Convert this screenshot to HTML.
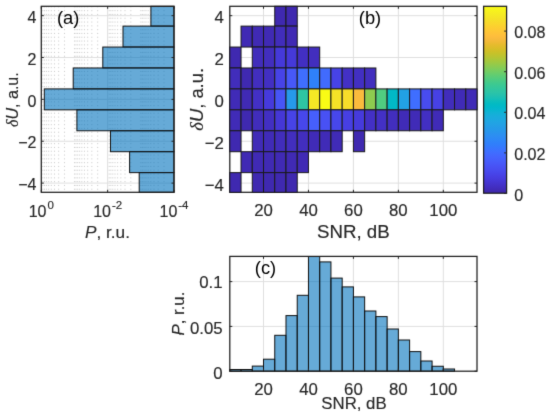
<!DOCTYPE html>
<html><head><meta charset="utf-8"><style>
html,body{margin:0;padding:0;background:#fff;}
svg{display:block;}
text{font-family:'Liberation Sans', Arial, sans-serif;}
</style></head><body>
<svg width="550" height="416" viewBox="0 0 550 416">
<defs><filter id="bl" filterUnits="userSpaceOnUse" x="0" y="0" width="550" height="416" color-interpolation-filters="sRGB"><feConvolveMatrix order="3" kernelMatrix="0.0113 0.0838 0.0113 0.0838 0.6193 0.0838 0.0113 0.0838 0.0113" edgeMode="duplicate"/></filter></defs>
<g filter="url(#bl)">
<rect width="550" height="416" fill="#fff"/>
<line x1="64.49" y1="6.3" x2="64.49" y2="192.3" stroke="#cdcdcd" stroke-width="1" stroke-dasharray="1.1 2.7"/>
<line x1="58.65" y1="6.3" x2="58.65" y2="192.3" stroke="#cdcdcd" stroke-width="1" stroke-dasharray="1.1 2.7"/>
<line x1="54.50" y1="6.3" x2="54.50" y2="192.3" stroke="#cdcdcd" stroke-width="1" stroke-dasharray="1.1 2.7"/>
<line x1="51.29" y1="6.3" x2="51.29" y2="192.3" stroke="#cdcdcd" stroke-width="1" stroke-dasharray="1.1 2.7"/>
<line x1="48.66" y1="6.3" x2="48.66" y2="192.3" stroke="#cdcdcd" stroke-width="1" stroke-dasharray="1.1 2.7"/>
<line x1="46.44" y1="6.3" x2="46.44" y2="192.3" stroke="#cdcdcd" stroke-width="1" stroke-dasharray="1.1 2.7"/>
<line x1="44.51" y1="6.3" x2="44.51" y2="192.3" stroke="#cdcdcd" stroke-width="1" stroke-dasharray="1.1 2.7"/>
<line x1="42.82" y1="6.3" x2="42.82" y2="192.3" stroke="#cdcdcd" stroke-width="1" stroke-dasharray="1.1 2.7"/>
<line x1="97.66" y1="6.3" x2="97.66" y2="192.3" stroke="#cdcdcd" stroke-width="1" stroke-dasharray="1.1 2.7"/>
<line x1="91.82" y1="6.3" x2="91.82" y2="192.3" stroke="#cdcdcd" stroke-width="1" stroke-dasharray="1.1 2.7"/>
<line x1="87.68" y1="6.3" x2="87.68" y2="192.3" stroke="#cdcdcd" stroke-width="1" stroke-dasharray="1.1 2.7"/>
<line x1="84.46" y1="6.3" x2="84.46" y2="192.3" stroke="#cdcdcd" stroke-width="1" stroke-dasharray="1.1 2.7"/>
<line x1="81.83" y1="6.3" x2="81.83" y2="192.3" stroke="#cdcdcd" stroke-width="1" stroke-dasharray="1.1 2.7"/>
<line x1="79.61" y1="6.3" x2="79.61" y2="192.3" stroke="#cdcdcd" stroke-width="1" stroke-dasharray="1.1 2.7"/>
<line x1="77.69" y1="6.3" x2="77.69" y2="192.3" stroke="#cdcdcd" stroke-width="1" stroke-dasharray="1.1 2.7"/>
<line x1="75.99" y1="6.3" x2="75.99" y2="192.3" stroke="#cdcdcd" stroke-width="1" stroke-dasharray="1.1 2.7"/>
<line x1="140.82" y1="6.3" x2="140.82" y2="192.3" stroke="#cdcdcd" stroke-width="1" stroke-dasharray="1.1 2.7"/>
<line x1="130.84" y1="6.3" x2="130.84" y2="192.3" stroke="#cdcdcd" stroke-width="1" stroke-dasharray="1.1 2.7"/>
<line x1="125.00" y1="6.3" x2="125.00" y2="192.3" stroke="#cdcdcd" stroke-width="1" stroke-dasharray="1.1 2.7"/>
<line x1="120.85" y1="6.3" x2="120.85" y2="192.3" stroke="#cdcdcd" stroke-width="1" stroke-dasharray="1.1 2.7"/>
<line x1="117.64" y1="6.3" x2="117.64" y2="192.3" stroke="#cdcdcd" stroke-width="1" stroke-dasharray="1.1 2.7"/>
<line x1="115.01" y1="6.3" x2="115.01" y2="192.3" stroke="#cdcdcd" stroke-width="1" stroke-dasharray="1.1 2.7"/>
<line x1="112.79" y1="6.3" x2="112.79" y2="192.3" stroke="#cdcdcd" stroke-width="1" stroke-dasharray="1.1 2.7"/>
<line x1="110.86" y1="6.3" x2="110.86" y2="192.3" stroke="#cdcdcd" stroke-width="1" stroke-dasharray="1.1 2.7"/>
<line x1="109.17" y1="6.3" x2="109.17" y2="192.3" stroke="#cdcdcd" stroke-width="1" stroke-dasharray="1.1 2.7"/>
<line x1="164.01" y1="6.3" x2="164.01" y2="192.3" stroke="#cdcdcd" stroke-width="1" stroke-dasharray="1.1 2.7"/>
<line x1="158.17" y1="6.3" x2="158.17" y2="192.3" stroke="#cdcdcd" stroke-width="1" stroke-dasharray="1.1 2.7"/>
<line x1="154.03" y1="6.3" x2="154.03" y2="192.3" stroke="#cdcdcd" stroke-width="1" stroke-dasharray="1.1 2.7"/>
<line x1="150.81" y1="6.3" x2="150.81" y2="192.3" stroke="#cdcdcd" stroke-width="1" stroke-dasharray="1.1 2.7"/>
<line x1="148.18" y1="6.3" x2="148.18" y2="192.3" stroke="#cdcdcd" stroke-width="1" stroke-dasharray="1.1 2.7"/>
<line x1="145.96" y1="6.3" x2="145.96" y2="192.3" stroke="#cdcdcd" stroke-width="1" stroke-dasharray="1.1 2.7"/>
<line x1="144.04" y1="6.3" x2="144.04" y2="192.3" stroke="#cdcdcd" stroke-width="1" stroke-dasharray="1.1 2.7"/>
<line x1="142.34" y1="6.3" x2="142.34" y2="192.3" stroke="#cdcdcd" stroke-width="1" stroke-dasharray="1.1 2.7"/>
<line x1="74.47" y1="6.3" x2="74.47" y2="192.3" stroke="#cdcdcd" stroke-width="1" stroke-dasharray="1.1 2.7"/>
<line x1="41.3" y1="183.10" x2="174" y2="183.10" stroke="#dfdfdf" stroke-width="1"/>
<line x1="41.3" y1="141.24" x2="174" y2="141.24" stroke="#dfdfdf" stroke-width="1"/>
<line x1="41.3" y1="99.38" x2="174" y2="99.38" stroke="#dfdfdf" stroke-width="1"/>
<line x1="41.3" y1="57.52" x2="174" y2="57.52" stroke="#dfdfdf" stroke-width="1"/>
<line x1="41.3" y1="15.66" x2="174" y2="15.66" stroke="#dfdfdf" stroke-width="1"/>
<line x1="107.65" y1="6.3" x2="107.65" y2="192.3" stroke="#dfdfdf" stroke-width="1"/>
<rect x="150.9" y="6.30" width="23.10" height="19.82" fill="#0072bd" fill-opacity="0.6" stroke="#111" stroke-width="1"/>
<rect x="123" y="26.12" width="51.00" height="20.93" fill="#0072bd" fill-opacity="0.6" stroke="#111" stroke-width="1"/>
<rect x="102.8" y="47.05" width="71.20" height="20.93" fill="#0072bd" fill-opacity="0.6" stroke="#111" stroke-width="1"/>
<rect x="73.2" y="67.98" width="100.80" height="20.93" fill="#0072bd" fill-opacity="0.6" stroke="#111" stroke-width="1"/>
<rect x="44.3" y="88.91" width="129.70" height="20.93" fill="#0072bd" fill-opacity="0.6" stroke="#111" stroke-width="1"/>
<rect x="76.9" y="109.84" width="97.10" height="20.93" fill="#0072bd" fill-opacity="0.6" stroke="#111" stroke-width="1"/>
<rect x="110.5" y="130.78" width="63.50" height="20.93" fill="#0072bd" fill-opacity="0.6" stroke="#111" stroke-width="1"/>
<rect x="129.6" y="151.70" width="44.40" height="20.93" fill="#0072bd" fill-opacity="0.6" stroke="#111" stroke-width="1"/>
<rect x="139.2" y="172.63" width="34.80" height="19.67" fill="#0072bd" fill-opacity="0.6" stroke="#111" stroke-width="1"/>
<line x1="41.3" y1="183.10" x2="43.8" y2="183.10" stroke="#262626"/>
<line x1="174" y1="183.10" x2="171.5" y2="183.10" stroke="#262626"/>
<line x1="41.3" y1="141.24" x2="43.8" y2="141.24" stroke="#262626"/>
<line x1="174" y1="141.24" x2="171.5" y2="141.24" stroke="#262626"/>
<line x1="41.3" y1="99.38" x2="43.8" y2="99.38" stroke="#262626"/>
<line x1="174" y1="99.38" x2="171.5" y2="99.38" stroke="#262626"/>
<line x1="41.3" y1="57.52" x2="43.8" y2="57.52" stroke="#262626"/>
<line x1="174" y1="57.52" x2="171.5" y2="57.52" stroke="#262626"/>
<line x1="41.3" y1="15.66" x2="43.8" y2="15.66" stroke="#262626"/>
<line x1="174" y1="15.66" x2="171.5" y2="15.66" stroke="#262626"/>
<line x1="41.30" y1="192.3" x2="41.30" y2="189.8" stroke="#262626"/>
<line x1="41.30" y1="6.3" x2="41.30" y2="8.8" stroke="#262626"/>
<line x1="107.65" y1="192.3" x2="107.65" y2="189.8" stroke="#262626"/>
<line x1="107.65" y1="6.3" x2="107.65" y2="8.8" stroke="#262626"/>
<line x1="174.00" y1="192.3" x2="174.00" y2="189.8" stroke="#262626"/>
<line x1="174.00" y1="6.3" x2="174.00" y2="8.8" stroke="#262626"/>
<rect x="41.3" y="6.3" width="132.7" height="186.00" fill="none" stroke="#1e1e1e" stroke-width="1.25"/>
<text transform="translate(36.50,22.86) scale(1,1.0)" text-anchor="end" font-size="16" fill="#262626" stroke="#262626" stroke-width="0.15">4</text>
<text transform="translate(36.50,64.72) scale(1,1.0)" text-anchor="end" font-size="16" fill="#262626" stroke="#262626" stroke-width="0.15">2</text>
<text transform="translate(36.50,106.58) scale(1,1.0)" text-anchor="end" font-size="16" fill="#262626" stroke="#262626" stroke-width="0.15">0</text>
<text transform="translate(36.50,148.44) scale(1,1.0)" text-anchor="end" font-size="16" fill="#262626" stroke="#262626" stroke-width="0.15">−2</text>
<text transform="translate(36.50,190.30) scale(1,1.0)" text-anchor="end" font-size="16" fill="#262626" stroke="#262626" stroke-width="0.15">−4</text>
<text transform="translate(41.30,217.20) scale(1,1.0)" text-anchor="middle" font-size="16" fill="#262626" stroke="#262626" stroke-width="0.15">10<tspan dx="1" dy="-8" font-size="11.5">0</tspan></text>
<text transform="translate(107.65,217.20) scale(1,1.0)" text-anchor="middle" font-size="16" fill="#262626" stroke="#262626" stroke-width="0.15">10<tspan dx="1" dy="-8" font-size="11.5">-2</tspan></text>
<text transform="translate(174.00,217.20) scale(1,1.0)" text-anchor="middle" font-size="16" fill="#262626" stroke="#262626" stroke-width="0.15">10<tspan dx="1" dy="-8" font-size="11.5">-4</tspan></text>
<text transform="translate(107.50,238.20) scale(1,1.0)" text-anchor="middle" font-size="17.2" fill="#262626" stroke="#262626" stroke-width="0.15"><tspan font-style="italic">P</tspan>, r.u.</text>
<text transform="translate(17.80,99.60) rotate(-90) scale(1,1.0)" text-anchor="middle" font-size="16" fill="#262626" stroke="#262626" stroke-width="0.15"><tspan font-style="italic"><tspan font-family="Liberation Serif">δ</tspan>U</tspan>, a.u.</text>
<text transform="translate(57.00,23.80) scale(1,1.0)" font-size="18.3" fill="#000">(a)</text>
<line x1="229.8" y1="183.10" x2="477" y2="183.10" stroke="#dfdfdf" stroke-width="1"/>
<line x1="229.8" y1="141.24" x2="477" y2="141.24" stroke="#dfdfdf" stroke-width="1"/>
<line x1="229.8" y1="99.38" x2="477" y2="99.38" stroke="#dfdfdf" stroke-width="1"/>
<line x1="229.8" y1="57.52" x2="477" y2="57.52" stroke="#dfdfdf" stroke-width="1"/>
<line x1="229.8" y1="15.66" x2="477" y2="15.66" stroke="#dfdfdf" stroke-width="1"/>
<line x1="263.51" y1="6.3" x2="263.51" y2="192.3" stroke="#dfdfdf" stroke-width="1"/>
<line x1="308.46" y1="6.3" x2="308.46" y2="192.3" stroke="#dfdfdf" stroke-width="1"/>
<line x1="353.41" y1="6.3" x2="353.41" y2="192.3" stroke="#dfdfdf" stroke-width="1"/>
<line x1="398.36" y1="6.3" x2="398.36" y2="192.3" stroke="#dfdfdf" stroke-width="1"/>
<line x1="443.31" y1="6.3" x2="443.31" y2="192.3" stroke="#dfdfdf" stroke-width="1"/>
<line x1="229.8" y1="183.10" x2="232.3" y2="183.10" stroke="#262626"/>
<line x1="477" y1="183.10" x2="474.5" y2="183.10" stroke="#262626"/>
<line x1="229.8" y1="141.24" x2="232.3" y2="141.24" stroke="#262626"/>
<line x1="477" y1="141.24" x2="474.5" y2="141.24" stroke="#262626"/>
<line x1="229.8" y1="99.38" x2="232.3" y2="99.38" stroke="#262626"/>
<line x1="477" y1="99.38" x2="474.5" y2="99.38" stroke="#262626"/>
<line x1="229.8" y1="57.52" x2="232.3" y2="57.52" stroke="#262626"/>
<line x1="477" y1="57.52" x2="474.5" y2="57.52" stroke="#262626"/>
<line x1="229.8" y1="15.66" x2="232.3" y2="15.66" stroke="#262626"/>
<line x1="477" y1="15.66" x2="474.5" y2="15.66" stroke="#262626"/>
<line x1="263.51" y1="192.3" x2="263.51" y2="189.8" stroke="#262626"/>
<line x1="263.51" y1="6.3" x2="263.51" y2="8.8" stroke="#262626"/>
<line x1="308.46" y1="192.3" x2="308.46" y2="189.8" stroke="#262626"/>
<line x1="308.46" y1="6.3" x2="308.46" y2="8.8" stroke="#262626"/>
<line x1="353.41" y1="192.3" x2="353.41" y2="189.8" stroke="#262626"/>
<line x1="353.41" y1="6.3" x2="353.41" y2="8.8" stroke="#262626"/>
<line x1="398.36" y1="192.3" x2="398.36" y2="189.8" stroke="#262626"/>
<line x1="398.36" y1="6.3" x2="398.36" y2="8.8" stroke="#262626"/>
<line x1="443.31" y1="192.3" x2="443.31" y2="189.8" stroke="#262626"/>
<line x1="443.31" y1="6.3" x2="443.31" y2="8.8" stroke="#262626"/>
<rect x="229.8" y="6.3" width="247.2" height="186.00" fill="none" stroke="#1e1e1e" stroke-width="1.25"/>
<rect x="274.75" y="6.30" width="11.24" height="19.82" fill="#3f29b0" stroke="#1a1a1a" stroke-width="1"/>
<rect x="285.99" y="6.30" width="11.24" height="19.82" fill="#3f29b0" stroke="#1a1a1a" stroke-width="1"/>
<rect x="241.04" y="26.12" width="11.24" height="20.93" fill="#402ab4" stroke="#1a1a1a" stroke-width="1"/>
<rect x="252.28" y="26.12" width="11.24" height="20.93" fill="#402ab4" stroke="#1a1a1a" stroke-width="1"/>
<rect x="263.51" y="26.12" width="11.24" height="20.93" fill="#402ab4" stroke="#1a1a1a" stroke-width="1"/>
<rect x="274.75" y="26.12" width="11.24" height="20.93" fill="#412dbb" stroke="#1a1a1a" stroke-width="1"/>
<rect x="285.99" y="26.12" width="11.24" height="20.93" fill="#402ab4" stroke="#1a1a1a" stroke-width="1"/>
<rect x="229.80" y="47.05" width="11.24" height="20.93" fill="#3f29b0" stroke="#1a1a1a" stroke-width="1"/>
<rect x="252.28" y="47.05" width="11.24" height="20.93" fill="#412dbb" stroke="#1a1a1a" stroke-width="1"/>
<rect x="263.51" y="47.05" width="11.24" height="20.93" fill="#422ebe" stroke="#1a1a1a" stroke-width="1"/>
<rect x="274.75" y="47.05" width="11.24" height="20.93" fill="#4539d9" stroke="#1a1a1a" stroke-width="1"/>
<rect x="285.99" y="47.05" width="11.24" height="20.93" fill="#4539d9" stroke="#1a1a1a" stroke-width="1"/>
<rect x="297.23" y="47.05" width="11.24" height="20.93" fill="#422fc2" stroke="#1a1a1a" stroke-width="1"/>
<rect x="308.46" y="47.05" width="11.24" height="20.93" fill="#422ebe" stroke="#1a1a1a" stroke-width="1"/>
<rect x="229.80" y="67.98" width="11.24" height="20.93" fill="#412dbb" stroke="#1a1a1a" stroke-width="1"/>
<rect x="241.04" y="67.98" width="11.24" height="20.93" fill="#3f29b0" stroke="#1a1a1a" stroke-width="1"/>
<rect x="252.28" y="67.98" width="11.24" height="20.93" fill="#422ebe" stroke="#1a1a1a" stroke-width="1"/>
<rect x="263.51" y="67.98" width="11.24" height="20.93" fill="#422fc2" stroke="#1a1a1a" stroke-width="1"/>
<rect x="274.75" y="67.98" width="11.24" height="20.93" fill="#4743e7" stroke="#1a1a1a" stroke-width="1"/>
<rect x="285.99" y="67.98" width="11.24" height="20.93" fill="#4758f8" stroke="#1a1a1a" stroke-width="1"/>
<rect x="297.23" y="67.98" width="11.24" height="20.93" fill="#3f6eff" stroke="#1a1a1a" stroke-width="1"/>
<rect x="308.46" y="67.98" width="11.24" height="20.93" fill="#2f81fa" stroke="#1a1a1a" stroke-width="1"/>
<rect x="319.70" y="67.98" width="11.24" height="20.93" fill="#416bfe" stroke="#1a1a1a" stroke-width="1"/>
<rect x="330.94" y="67.98" width="11.24" height="20.93" fill="#4743e7" stroke="#1a1a1a" stroke-width="1"/>
<rect x="342.18" y="67.98" width="11.24" height="20.93" fill="#4330c5" stroke="#1a1a1a" stroke-width="1"/>
<rect x="353.41" y="67.98" width="11.24" height="20.93" fill="#422fc2" stroke="#1a1a1a" stroke-width="1"/>
<rect x="364.65" y="67.98" width="11.24" height="20.93" fill="#422ebe" stroke="#1a1a1a" stroke-width="1"/>
<rect x="229.80" y="88.91" width="11.24" height="20.93" fill="#402bb7" stroke="#1a1a1a" stroke-width="1"/>
<rect x="241.04" y="88.91" width="11.24" height="20.93" fill="#402ab4" stroke="#1a1a1a" stroke-width="1"/>
<rect x="252.28" y="88.91" width="11.24" height="20.93" fill="#4330c5" stroke="#1a1a1a" stroke-width="1"/>
<rect x="263.51" y="88.91" width="11.24" height="20.93" fill="#463adc" stroke="#1a1a1a" stroke-width="1"/>
<rect x="274.75" y="88.91" width="11.24" height="20.93" fill="#4755f6" stroke="#1a1a1a" stroke-width="1"/>
<rect x="285.99" y="88.91" width="11.24" height="20.93" fill="#2699ea" stroke="#1a1a1a" stroke-width="1"/>
<rect x="297.23" y="88.91" width="11.24" height="20.93" fill="#2fc5a2" stroke="#1a1a1a" stroke-width="1"/>
<rect x="308.46" y="88.91" width="11.24" height="20.93" fill="#f5e825" stroke="#1a1a1a" stroke-width="1"/>
<rect x="319.70" y="88.91" width="11.24" height="20.93" fill="#f9fb15" stroke="#1a1a1a" stroke-width="1"/>
<rect x="330.94" y="88.91" width="11.24" height="20.93" fill="#f5e227" stroke="#1a1a1a" stroke-width="1"/>
<rect x="342.18" y="88.91" width="11.24" height="20.93" fill="#f7dc2a" stroke="#1a1a1a" stroke-width="1"/>
<rect x="353.41" y="88.91" width="11.24" height="20.93" fill="#fabb3d" stroke="#1a1a1a" stroke-width="1"/>
<rect x="364.65" y="88.91" width="11.24" height="20.93" fill="#8dcb4f" stroke="#1a1a1a" stroke-width="1"/>
<rect x="375.89" y="88.91" width="11.24" height="20.93" fill="#50cc80" stroke="#1a1a1a" stroke-width="1"/>
<rect x="387.12" y="88.91" width="11.24" height="20.93" fill="#01b9c6" stroke="#1a1a1a" stroke-width="1"/>
<rect x="398.36" y="88.91" width="11.24" height="20.93" fill="#22a1e4" stroke="#1a1a1a" stroke-width="1"/>
<rect x="409.60" y="88.91" width="11.24" height="20.93" fill="#3f6eff" stroke="#1a1a1a" stroke-width="1"/>
<rect x="420.84" y="88.91" width="11.24" height="20.93" fill="#484cef" stroke="#1a1a1a" stroke-width="1"/>
<rect x="432.08" y="88.91" width="11.24" height="20.93" fill="#4741e5" stroke="#1a1a1a" stroke-width="1"/>
<rect x="443.31" y="88.91" width="11.24" height="20.93" fill="#412dbb" stroke="#1a1a1a" stroke-width="1"/>
<rect x="454.55" y="88.91" width="11.24" height="20.93" fill="#402bb7" stroke="#1a1a1a" stroke-width="1"/>
<rect x="465.79" y="88.91" width="11.24" height="20.93" fill="#402bb7" stroke="#1a1a1a" stroke-width="1"/>
<rect x="229.80" y="109.84" width="11.24" height="20.93" fill="#402bb7" stroke="#1a1a1a" stroke-width="1"/>
<rect x="241.04" y="109.84" width="11.24" height="20.93" fill="#3f29b0" stroke="#1a1a1a" stroke-width="1"/>
<rect x="252.28" y="109.84" width="11.24" height="20.93" fill="#412dbb" stroke="#1a1a1a" stroke-width="1"/>
<rect x="263.51" y="109.84" width="11.24" height="20.93" fill="#422fc2" stroke="#1a1a1a" stroke-width="1"/>
<rect x="274.75" y="109.84" width="11.24" height="20.93" fill="#4537d6" stroke="#1a1a1a" stroke-width="1"/>
<rect x="285.99" y="109.84" width="11.24" height="20.93" fill="#4743e7" stroke="#1a1a1a" stroke-width="1"/>
<rect x="297.23" y="109.84" width="11.24" height="20.93" fill="#4747eb" stroke="#1a1a1a" stroke-width="1"/>
<rect x="308.46" y="109.84" width="11.24" height="20.93" fill="#465ffb" stroke="#1a1a1a" stroke-width="1"/>
<rect x="319.70" y="109.84" width="11.24" height="20.93" fill="#4851f4" stroke="#1a1a1a" stroke-width="1"/>
<rect x="330.94" y="109.84" width="11.24" height="20.93" fill="#4747eb" stroke="#1a1a1a" stroke-width="1"/>
<rect x="342.18" y="109.84" width="11.24" height="20.93" fill="#473fe3" stroke="#1a1a1a" stroke-width="1"/>
<rect x="353.41" y="109.84" width="11.24" height="20.93" fill="#463adc" stroke="#1a1a1a" stroke-width="1"/>
<rect x="364.65" y="109.84" width="11.24" height="20.93" fill="#4330c5" stroke="#1a1a1a" stroke-width="1"/>
<rect x="375.89" y="109.84" width="11.24" height="20.93" fill="#4330c5" stroke="#1a1a1a" stroke-width="1"/>
<rect x="387.12" y="109.84" width="11.24" height="20.93" fill="#422ebe" stroke="#1a1a1a" stroke-width="1"/>
<rect x="398.36" y="109.84" width="11.24" height="20.93" fill="#402bb7" stroke="#1a1a1a" stroke-width="1"/>
<rect x="409.60" y="109.84" width="11.24" height="20.93" fill="#402bb7" stroke="#1a1a1a" stroke-width="1"/>
<rect x="420.84" y="109.84" width="11.24" height="20.93" fill="#422fc2" stroke="#1a1a1a" stroke-width="1"/>
<rect x="432.08" y="109.84" width="11.24" height="20.93" fill="#402bb7" stroke="#1a1a1a" stroke-width="1"/>
<rect x="229.80" y="130.78" width="11.24" height="20.93" fill="#3f29b0" stroke="#1a1a1a" stroke-width="1"/>
<rect x="252.28" y="130.78" width="11.24" height="20.93" fill="#402bb7" stroke="#1a1a1a" stroke-width="1"/>
<rect x="263.51" y="130.78" width="11.24" height="20.93" fill="#402bb7" stroke="#1a1a1a" stroke-width="1"/>
<rect x="274.75" y="130.78" width="11.24" height="20.93" fill="#412dbb" stroke="#1a1a1a" stroke-width="1"/>
<rect x="285.99" y="130.78" width="11.24" height="20.93" fill="#422ebe" stroke="#1a1a1a" stroke-width="1"/>
<rect x="297.23" y="130.78" width="11.24" height="20.93" fill="#422ebe" stroke="#1a1a1a" stroke-width="1"/>
<rect x="308.46" y="130.78" width="11.24" height="20.93" fill="#402bb7" stroke="#1a1a1a" stroke-width="1"/>
<rect x="319.70" y="130.78" width="11.24" height="20.93" fill="#402bb7" stroke="#1a1a1a" stroke-width="1"/>
<rect x="330.94" y="130.78" width="11.24" height="20.93" fill="#402bb7" stroke="#1a1a1a" stroke-width="1"/>
<rect x="353.41" y="130.78" width="11.24" height="20.93" fill="#3f29b0" stroke="#1a1a1a" stroke-width="1"/>
<rect x="241.04" y="151.70" width="11.24" height="20.93" fill="#402ab4" stroke="#1a1a1a" stroke-width="1"/>
<rect x="252.28" y="151.70" width="11.24" height="20.93" fill="#402ab4" stroke="#1a1a1a" stroke-width="1"/>
<rect x="263.51" y="151.70" width="11.24" height="20.93" fill="#402ab4" stroke="#1a1a1a" stroke-width="1"/>
<rect x="274.75" y="151.70" width="11.24" height="20.93" fill="#402ab4" stroke="#1a1a1a" stroke-width="1"/>
<rect x="285.99" y="151.70" width="11.24" height="20.93" fill="#402ab4" stroke="#1a1a1a" stroke-width="1"/>
<rect x="297.23" y="151.70" width="11.24" height="20.93" fill="#402ab4" stroke="#1a1a1a" stroke-width="1"/>
<rect x="229.80" y="172.63" width="11.24" height="19.67" fill="#3f29b0" stroke="#1a1a1a" stroke-width="1"/>
<rect x="252.28" y="172.63" width="11.24" height="19.67" fill="#3f29b0" stroke="#1a1a1a" stroke-width="1"/>
<rect x="263.51" y="172.63" width="11.24" height="19.67" fill="#3f29b0" stroke="#1a1a1a" stroke-width="1"/>
<rect x="274.75" y="172.63" width="11.24" height="19.67" fill="#3f29b0" stroke="#1a1a1a" stroke-width="1"/>
<rect x="285.99" y="172.63" width="11.24" height="19.67" fill="#3f29b0" stroke="#1a1a1a" stroke-width="1"/>
<text transform="translate(223.80,23.26) scale(1,1.0)" text-anchor="end" font-size="16.8" fill="#262626" stroke="#262626" stroke-width="0.15">4</text>
<text transform="translate(223.80,65.12) scale(1,1.0)" text-anchor="end" font-size="16.8" fill="#262626" stroke="#262626" stroke-width="0.15">2</text>
<text transform="translate(223.80,106.98) scale(1,1.0)" text-anchor="end" font-size="16.8" fill="#262626" stroke="#262626" stroke-width="0.15">0</text>
<text transform="translate(223.80,148.84) scale(1,1.0)" text-anchor="end" font-size="16.8" fill="#262626" stroke="#262626" stroke-width="0.15">−2</text>
<text transform="translate(223.80,190.70) scale(1,1.0)" text-anchor="end" font-size="16.8" fill="#262626" stroke="#262626" stroke-width="0.15">−4</text>
<text transform="translate(263.51,215.60) scale(1,1.0)" text-anchor="middle" font-size="16.8" fill="#262626" stroke="#262626" stroke-width="0.15">20</text>
<text transform="translate(308.46,215.60) scale(1,1.0)" text-anchor="middle" font-size="16.8" fill="#262626" stroke="#262626" stroke-width="0.15">40</text>
<text transform="translate(353.41,215.60) scale(1,1.0)" text-anchor="middle" font-size="16.8" fill="#262626" stroke="#262626" stroke-width="0.15">60</text>
<text transform="translate(398.36,215.60) scale(1,1.0)" text-anchor="middle" font-size="16.8" fill="#262626" stroke="#262626" stroke-width="0.15">80</text>
<text transform="translate(443.31,215.60) scale(1,1.0)" text-anchor="middle" font-size="16.8" fill="#262626" stroke="#262626" stroke-width="0.15">100</text>
<text transform="translate(353.30,238.30) scale(1,1.0)" text-anchor="middle" font-size="18.7" fill="#262626" stroke="#262626" stroke-width="0.15">SNR, dB</text>
<text transform="translate(203.00,99.30) rotate(-90) scale(1,1.0)" text-anchor="middle" font-size="18.4" fill="#262626" stroke="#262626" stroke-width="0.15"><tspan font-style="italic"><tspan font-family="Liberation Serif">δ</tspan>U</tspan>, a.u.</text>
<text transform="translate(358.80,23.80) scale(1,1.0)" font-size="18.3" fill="#000">(b)</text>
<defs><linearGradient id="cb" x1="0" y1="0" x2="0" y2="1"><stop offset="0.0000" stop-color="#f9fb15"/><stop offset="0.0159" stop-color="#f7f51b"/><stop offset="0.0317" stop-color="#f6ef20"/><stop offset="0.0476" stop-color="#f5e924"/><stop offset="0.0635" stop-color="#f5e327"/><stop offset="0.0794" stop-color="#f7dc2a"/><stop offset="0.0952" stop-color="#fad62d"/><stop offset="0.1111" stop-color="#fccf30"/><stop offset="0.1270" stop-color="#fec934"/><stop offset="0.1429" stop-color="#fec338"/><stop offset="0.1587" stop-color="#febe3c"/><stop offset="0.1746" stop-color="#f8ba3d"/><stop offset="0.1905" stop-color="#f0ba36"/><stop offset="0.2063" stop-color="#e6bb2d"/><stop offset="0.2222" stop-color="#dcbd29"/><stop offset="0.2381" stop-color="#d1bf27"/><stop offset="0.2540" stop-color="#c5c22a"/><stop offset="0.2698" stop-color="#b9c431"/><stop offset="0.2857" stop-color="#abc739"/><stop offset="0.3016" stop-color="#9dc943"/><stop offset="0.3175" stop-color="#8fcb4e"/><stop offset="0.3333" stop-color="#81cc59"/><stop offset="0.3492" stop-color="#72cd64"/><stop offset="0.3651" stop-color="#64cd6f"/><stop offset="0.3810" stop-color="#57cc7a"/><stop offset="0.3968" stop-color="#4acb84"/><stop offset="0.4127" stop-color="#3fca8e"/><stop offset="0.4286" stop-color="#37c897"/><stop offset="0.4444" stop-color="#31c69f"/><stop offset="0.4603" stop-color="#2cc4a7"/><stop offset="0.4762" stop-color="#24c1ae"/><stop offset="0.4921" stop-color="#19bfb6"/><stop offset="0.5079" stop-color="#0bbdbd"/><stop offset="0.5238" stop-color="#02bac3"/><stop offset="0.5397" stop-color="#01b8ca"/><stop offset="0.5556" stop-color="#08b5d0"/><stop offset="0.5714" stop-color="#12b1d6"/><stop offset="0.5873" stop-color="#18addb"/><stop offset="0.6032" stop-color="#1ca9df"/><stop offset="0.6190" stop-color="#20a5e3"/><stop offset="0.6349" stop-color="#23a0e5"/><stop offset="0.6508" stop-color="#259be8"/><stop offset="0.6667" stop-color="#2797eb"/><stop offset="0.6825" stop-color="#2b91ef"/><stop offset="0.6984" stop-color="#2d8cf3"/><stop offset="0.7143" stop-color="#2e87f7"/><stop offset="0.7302" stop-color="#2f81fa"/><stop offset="0.7460" stop-color="#327cfc"/><stop offset="0.7619" stop-color="#3875fe"/><stop offset="0.7778" stop-color="#3e6fff"/><stop offset="0.7937" stop-color="#4269fe"/><stop offset="0.8095" stop-color="#4563fd"/><stop offset="0.8254" stop-color="#465efb"/><stop offset="0.8413" stop-color="#4758f8"/><stop offset="0.8571" stop-color="#4852f4"/><stop offset="0.8730" stop-color="#484df0"/><stop offset="0.8889" stop-color="#4747eb"/><stop offset="0.9048" stop-color="#4741e5"/><stop offset="0.9206" stop-color="#463cde"/><stop offset="0.9365" stop-color="#4537d5"/><stop offset="0.9524" stop-color="#4332cb"/><stop offset="0.9683" stop-color="#422ec0"/><stop offset="0.9841" stop-color="#402ab4"/><stop offset="1.0000" stop-color="#3e26a8"/></linearGradient></defs>
<rect x="483.6" y="6.3" width="23.0" height="186.90" fill="url(#cb)" stroke="#1e1e1e" stroke-width="1.25"/>
<line x1="506.6" y1="193.50" x2="504.1" y2="193.50" stroke="#262626"/>
<text transform="translate(514.20,200.50) scale(1,1.0)" font-size="16.1" fill="#262626" stroke="#262626" stroke-width="0.15">0</text>
<line x1="506.6" y1="152.90" x2="504.1" y2="152.90" stroke="#262626"/>
<text transform="translate(514.20,159.90) scale(1,1.0)" font-size="16.1" fill="#262626" stroke="#262626" stroke-width="0.15">0.02</text>
<line x1="506.6" y1="112.30" x2="504.1" y2="112.30" stroke="#262626"/>
<text transform="translate(514.20,119.30) scale(1,1.0)" font-size="16.1" fill="#262626" stroke="#262626" stroke-width="0.15">0.04</text>
<line x1="506.6" y1="71.70" x2="504.1" y2="71.70" stroke="#262626"/>
<text transform="translate(514.20,78.70) scale(1,1.0)" font-size="16.1" fill="#262626" stroke="#262626" stroke-width="0.15">0.06</text>
<line x1="506.6" y1="31.10" x2="504.1" y2="31.10" stroke="#262626"/>
<text transform="translate(514.20,38.10) scale(1,1.0)" font-size="16.1" fill="#262626" stroke="#262626" stroke-width="0.15">0.08</text>
<line x1="229.8" y1="326.40" x2="477" y2="326.40" stroke="#dfdfdf" stroke-width="1"/>
<line x1="229.8" y1="281.60" x2="477" y2="281.60" stroke="#dfdfdf" stroke-width="1"/>
<line x1="263.51" y1="256.4" x2="263.51" y2="371.2" stroke="#dfdfdf" stroke-width="1"/>
<line x1="308.46" y1="256.4" x2="308.46" y2="371.2" stroke="#dfdfdf" stroke-width="1"/>
<line x1="353.41" y1="256.4" x2="353.41" y2="371.2" stroke="#dfdfdf" stroke-width="1"/>
<line x1="398.36" y1="256.4" x2="398.36" y2="371.2" stroke="#dfdfdf" stroke-width="1"/>
<line x1="443.31" y1="256.4" x2="443.31" y2="371.2" stroke="#dfdfdf" stroke-width="1"/>
<rect x="229.80" y="369.50" width="11.24" height="1.70" fill="#0072bd" fill-opacity="0.6" stroke="#111" stroke-width="1"/>
<rect x="241.04" y="369.50" width="11.24" height="1.70" fill="#0072bd" fill-opacity="0.6" stroke="#111" stroke-width="1"/>
<rect x="252.28" y="366.10" width="11.24" height="5.10" fill="#0072bd" fill-opacity="0.6" stroke="#111" stroke-width="1"/>
<rect x="263.51" y="359.20" width="11.24" height="12.00" fill="#0072bd" fill-opacity="0.6" stroke="#111" stroke-width="1"/>
<rect x="274.75" y="335.30" width="11.24" height="35.90" fill="#0072bd" fill-opacity="0.6" stroke="#111" stroke-width="1"/>
<rect x="285.99" y="315.60" width="11.24" height="55.60" fill="#0072bd" fill-opacity="0.6" stroke="#111" stroke-width="1"/>
<rect x="297.23" y="295.30" width="11.24" height="75.90" fill="#0072bd" fill-opacity="0.6" stroke="#111" stroke-width="1"/>
<rect x="308.46" y="256.50" width="11.24" height="114.70" fill="#0072bd" fill-opacity="0.6" stroke="#111" stroke-width="1"/>
<rect x="319.70" y="261.90" width="11.24" height="109.30" fill="#0072bd" fill-opacity="0.6" stroke="#111" stroke-width="1"/>
<rect x="330.94" y="278.10" width="11.24" height="93.10" fill="#0072bd" fill-opacity="0.6" stroke="#111" stroke-width="1"/>
<rect x="342.18" y="286.90" width="11.24" height="84.30" fill="#0072bd" fill-opacity="0.6" stroke="#111" stroke-width="1"/>
<rect x="353.41" y="296.90" width="11.24" height="74.30" fill="#0072bd" fill-opacity="0.6" stroke="#111" stroke-width="1"/>
<rect x="364.65" y="311.00" width="11.24" height="60.20" fill="#0072bd" fill-opacity="0.6" stroke="#111" stroke-width="1"/>
<rect x="375.89" y="316.60" width="11.24" height="54.60" fill="#0072bd" fill-opacity="0.6" stroke="#111" stroke-width="1"/>
<rect x="387.12" y="329.00" width="11.24" height="42.20" fill="#0072bd" fill-opacity="0.6" stroke="#111" stroke-width="1"/>
<rect x="398.36" y="340.00" width="11.24" height="31.20" fill="#0072bd" fill-opacity="0.6" stroke="#111" stroke-width="1"/>
<rect x="409.60" y="351.60" width="11.24" height="19.60" fill="#0072bd" fill-opacity="0.6" stroke="#111" stroke-width="1"/>
<rect x="420.84" y="361.00" width="11.24" height="10.20" fill="#0072bd" fill-opacity="0.6" stroke="#111" stroke-width="1"/>
<rect x="432.08" y="366.25" width="11.24" height="4.95" fill="#0072bd" fill-opacity="0.6" stroke="#111" stroke-width="1"/>
<rect x="443.31" y="369.00" width="11.24" height="2.20" fill="#0072bd" fill-opacity="0.6" stroke="#111" stroke-width="1"/>
<line x1="229.8" y1="371.20" x2="232.3" y2="371.20" stroke="#262626"/>
<line x1="477" y1="371.20" x2="474.5" y2="371.20" stroke="#262626"/>
<line x1="229.8" y1="326.40" x2="232.3" y2="326.40" stroke="#262626"/>
<line x1="477" y1="326.40" x2="474.5" y2="326.40" stroke="#262626"/>
<line x1="229.8" y1="281.60" x2="232.3" y2="281.60" stroke="#262626"/>
<line x1="477" y1="281.60" x2="474.5" y2="281.60" stroke="#262626"/>
<line x1="263.51" y1="371.2" x2="263.51" y2="368.7" stroke="#262626"/>
<line x1="263.51" y1="256.4" x2="263.51" y2="258.9" stroke="#262626"/>
<line x1="308.46" y1="371.2" x2="308.46" y2="368.7" stroke="#262626"/>
<line x1="308.46" y1="256.4" x2="308.46" y2="258.9" stroke="#262626"/>
<line x1="353.41" y1="371.2" x2="353.41" y2="368.7" stroke="#262626"/>
<line x1="353.41" y1="256.4" x2="353.41" y2="258.9" stroke="#262626"/>
<line x1="398.36" y1="371.2" x2="398.36" y2="368.7" stroke="#262626"/>
<line x1="398.36" y1="256.4" x2="398.36" y2="258.9" stroke="#262626"/>
<line x1="443.31" y1="371.2" x2="443.31" y2="368.7" stroke="#262626"/>
<line x1="443.31" y1="256.4" x2="443.31" y2="258.9" stroke="#262626"/>
<rect x="229.8" y="256.4" width="247.2" height="114.80" fill="none" stroke="#1e1e1e" stroke-width="1.25"/>
<text transform="translate(222.60,379.20) scale(1,1.0)" text-anchor="end" font-size="16.8" fill="#262626" stroke="#262626" stroke-width="0.15">0</text>
<text transform="translate(222.60,333.70) scale(1,1.0)" text-anchor="end" font-size="16.8" fill="#262626" stroke="#262626" stroke-width="0.15">0.05</text>
<text transform="translate(222.60,288.20) scale(1,1.0)" text-anchor="end" font-size="16.8" fill="#262626" stroke="#262626" stroke-width="0.15">0.1</text>
<text transform="translate(263.51,394.80) scale(1,1.0)" text-anchor="middle" font-size="16.8" fill="#262626" stroke="#262626" stroke-width="0.15">20</text>
<text transform="translate(308.46,394.80) scale(1,1.0)" text-anchor="middle" font-size="16.8" fill="#262626" stroke="#262626" stroke-width="0.15">40</text>
<text transform="translate(353.41,394.80) scale(1,1.0)" text-anchor="middle" font-size="16.8" fill="#262626" stroke="#262626" stroke-width="0.15">60</text>
<text transform="translate(398.36,394.80) scale(1,1.0)" text-anchor="middle" font-size="16.8" fill="#262626" stroke="#262626" stroke-width="0.15">80</text>
<text transform="translate(443.31,394.80) scale(1,1.0)" text-anchor="middle" font-size="16.8" fill="#262626" stroke="#262626" stroke-width="0.15">100</text>
<text transform="translate(354.00,409.30) scale(1,1.0)" text-anchor="middle" font-size="16.8" fill="#262626" stroke="#262626" stroke-width="0.15">SNR, dB</text>
<text transform="translate(183.70,313.60) rotate(-90) scale(1,1.0)" text-anchor="middle" font-size="16.8" fill="#262626" stroke="#262626" stroke-width="0.15"><tspan font-style="italic">P</tspan>, r.u.</text>
<text transform="translate(254.80,274.00) scale(1,1.0)" font-size="18.3" fill="#000">(c)</text>
</g>
</svg>
</body></html>
